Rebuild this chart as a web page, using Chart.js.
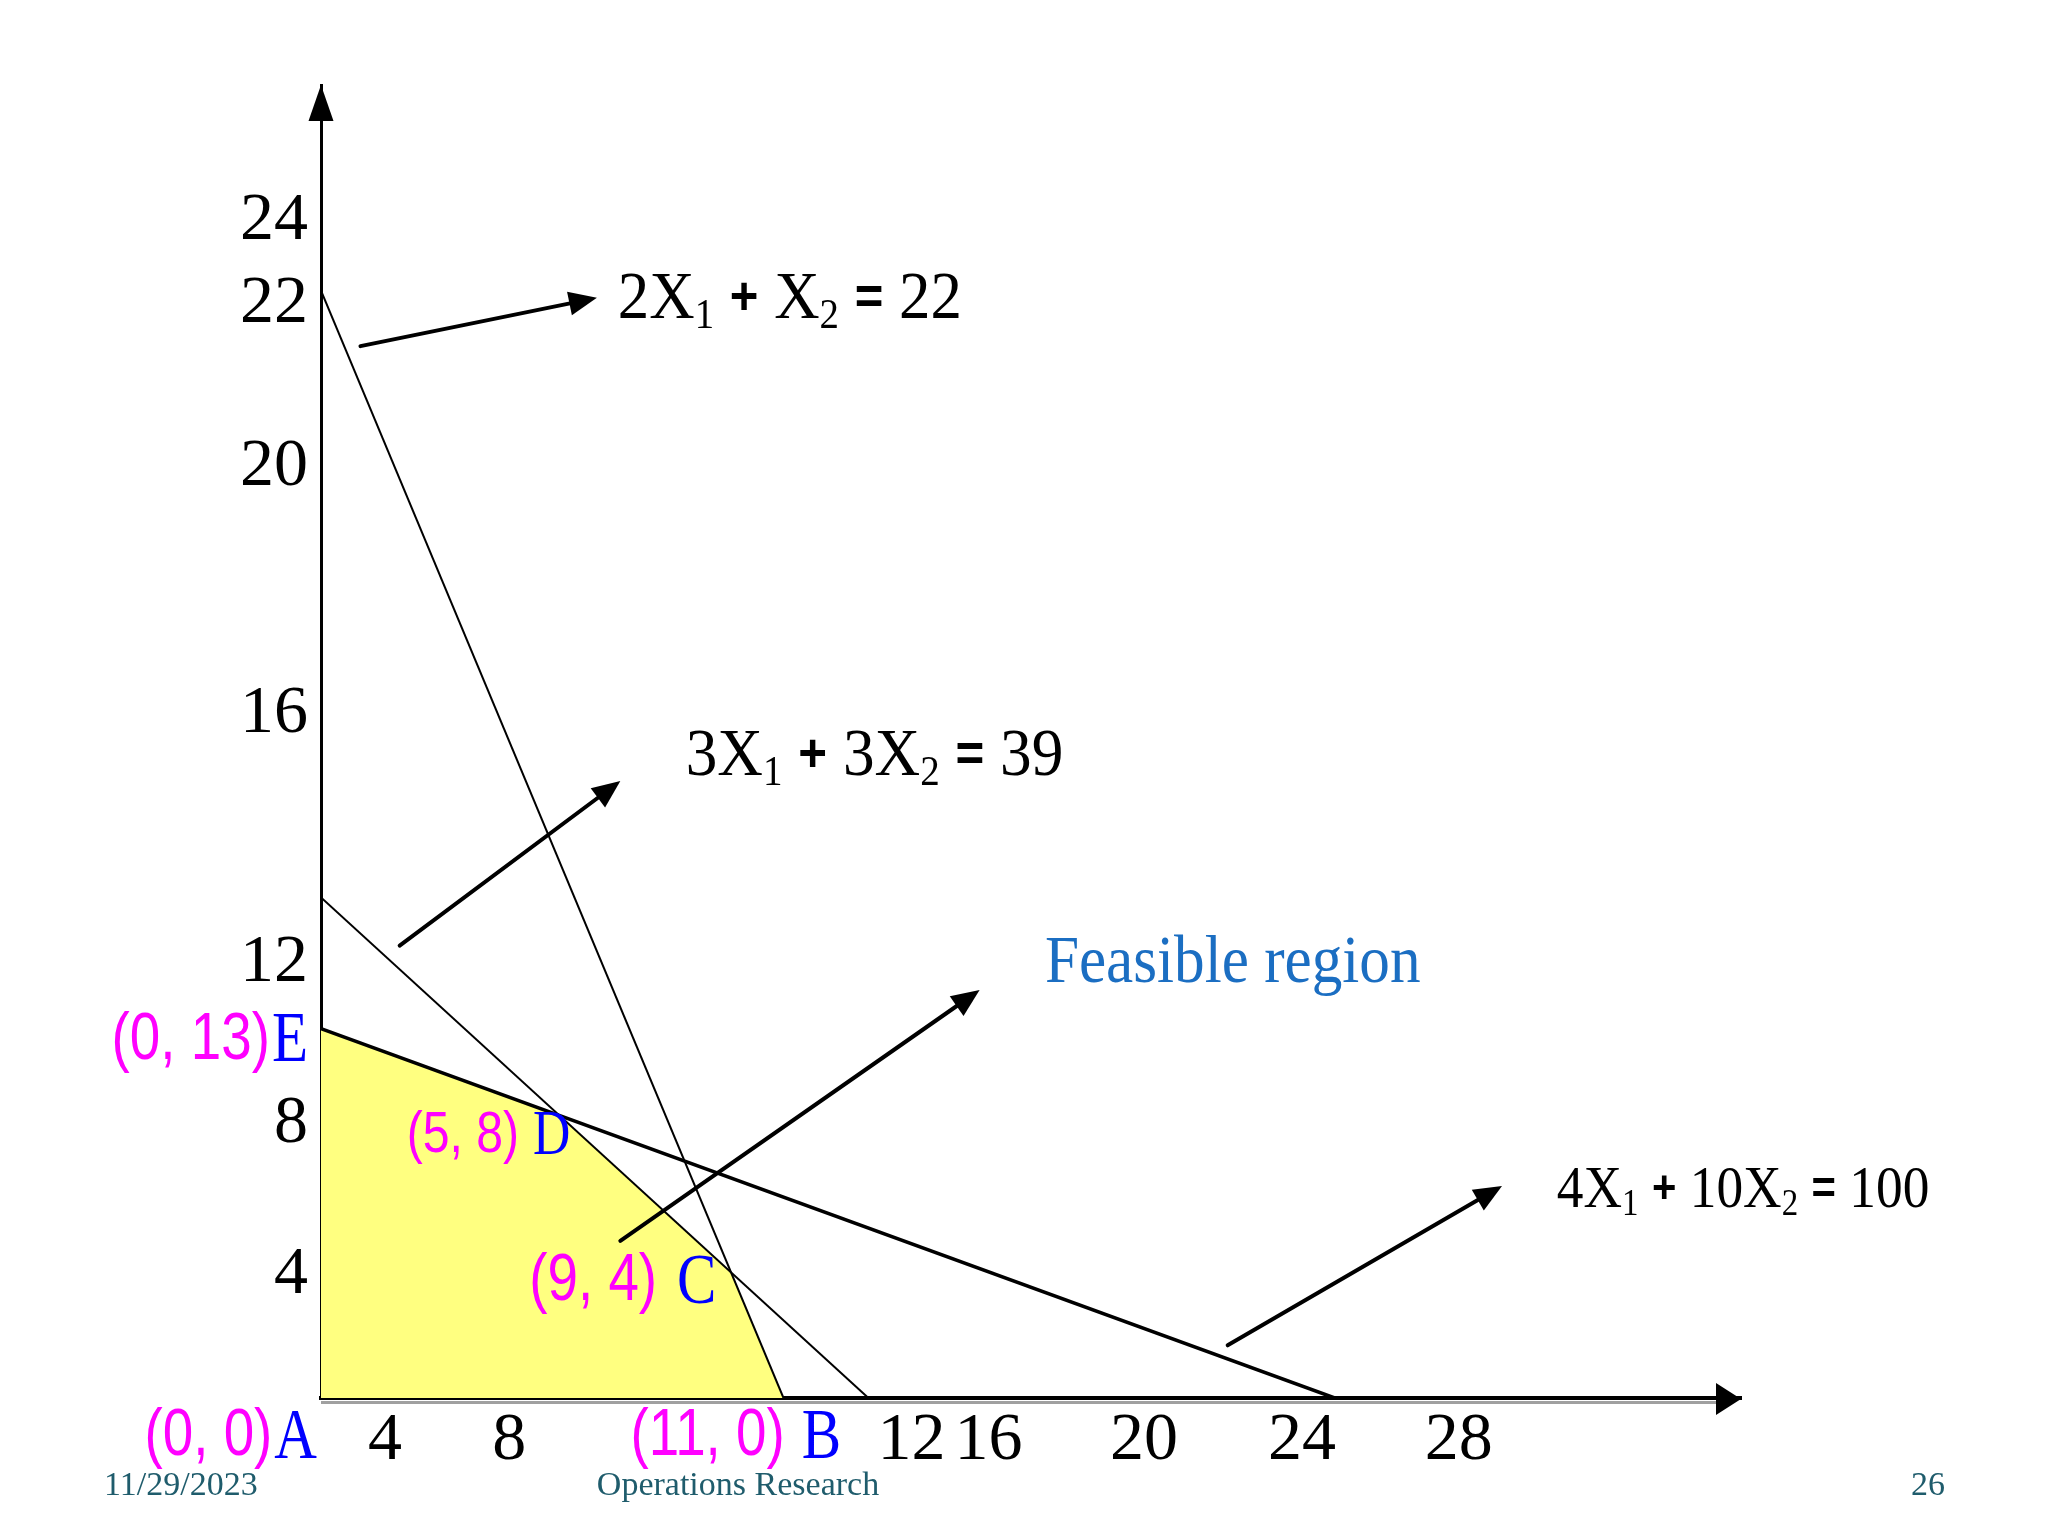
<!DOCTYPE html>
<html>
<head>
<meta charset="utf-8">
<script src="https://cdn.jsdelivr.net/npm/chart.js@4.4.1/dist/chart.umd.min.js"></script>
<style>
  html, body { margin: 0; padding: 0; background: #fff; }
  canvas { display: block; }
</style>
</head>
<body>
<canvas id="lp" width="2048" height="1536"></canvas>
<script>
/* ── data ── */
const lineLabels   = ['2X_1 + X_2 = 22', '3X_1 + 3X_2 = 39', '4X_1 + 10X_2 = 100'];
const x1Intercepts = [11, 13, 25];
const x2Intercepts = [22, 13, 10];
const lineWidths   = [2, 2, 3.5];

const vertexNames = ['A', 'B', 'C', 'D', 'E'];
const vertexX1    = [0, 11, 9, 5, 0];
const vertexX2    = [0, 0, 4, 8, 10];
const vertexText  = ['(0, 0)', '(11, 0)', '(9, 4)', '(5, 8)', '(0, 13)'];

const xTicks = [4, 8, 12, 16, 20, 24, 28];
const yTicks = [4, 8, 12, 16, 20, 22, 24];

const footer = ['11/29/2023', 'Operations Research', '26'];

/* ── the slide is not drawn to scale: piecewise value -> axis fraction ── */
const KNOTS = {
  x:  [[0, 0], [5, 0.1674], [9, 0.2889], [11, 0.3257], [13, 0.3855], [25, 0.7139], [35.5, 1]],
  y:  [[0, 0], [4, 0.0958], [8, 0.2156], [10, 0.2814], [13, 0.3812], [22, 0.8433], [25.05, 1]],
  xt: [[0, 0], [4, 0.0451], [8, 0.1325], [12, 0.4158], [16, 0.4701], [20, 0.5796], [24, 0.6909], [28, 0.8013], [35.6, 1]],
  yt: [[0, 0], [4, 0.0938], [8, 0.2086], [12, 0.3313], [16, 0.5210], [20, 0.7086], [22, 0.8333], [24, 0.8962], [27, 1]]
};

function warp(knots, v) {
  for (let i = 1; i < knots.length; i++) {
    const [v0, f0] = knots[i - 1], [v1, f1] = knots[i];
    if (v <= v1 || i === knots.length - 1) return f0 + (v - v0) * (f1 - f0) / (v1 - v0);
  }
}
function unwarp(knots, f) {
  for (let i = 1; i < knots.length; i++) {
    const [v0, f0] = knots[i - 1], [v1, f1] = knots[i];
    if (f <= f1 || i === knots.length - 1) return v0 + (f - f0) * (v1 - v0) / (f1 - f0);
  }
}

class WarpScale extends Chart.LinearScale {
  static id = 'warp';
  static defaults = Chart.LinearScale.defaults;
  getPixelForValue(value) {
    if (value === null || value === undefined || isNaN(value)) return NaN;
    return this.getPixelForDecimal(warp(KNOTS[this.id], value));
  }
  getValueForPixel(pixel) {
    return unwarp(KNOTS[this.id], this.getDecimalForPixel(pixel));
  }
}
Chart.register(WarpScale);

Chart.defaults.font.family = "'Liberation Serif', 'Times New Roman', serif";
Chart.defaults.color = '#000';

/* ── drawing helpers ── */
function txt(ctx, s, x, y, font, color, sx = 1, align = 'left') {
  ctx.save();
  ctx.font = font;
  ctx.fillStyle = color;
  ctx.textBaseline = 'middle';
  ctx.textAlign = 'left';
  const w = ctx.measureText(s).width * sx;
  const x0 = align === 'right' ? x - w : align === 'center' ? x - w / 2 : x;
  ctx.translate(x0, y);
  ctx.scale(sx, 1);
  ctx.fillText(s, 0, 0);
  ctx.restore();
  return w;
}

// '_1' -> subscript, '+' and '=' -> heavy sans operator, rest serif
function equation(ctx, s, x, y, size, sx) {
  let cx = x;
  s.split(/(_\d|[+=])/).forEach(p => {
    if (!p) return;
    if (p[0] === '_') {
      cx += txt(ctx, p.slice(1), cx, y + size * 0.24, `${Math.round(size * 0.62)}px "Liberation Serif"`, '#000', sx);
    } else if (p === '+' || p === '=') {
      cx += txt(ctx, p, cx, y - size * 0.02, `bold ${Math.round(size * 0.78)}px "Liberation Sans"`, '#000', sx);
    } else {
      cx += txt(ctx, p, cx, y, `${size}px "Liberation Serif"`, '#000', sx);
    }
  });
}

function head(ctx, x, y, ang, len, wid) {
  ctx.save();
  ctx.translate(x, y);
  ctx.rotate(ang);
  ctx.beginPath();
  ctx.moveTo(0, 0);
  ctx.lineTo(-len, -wid / 2);
  ctx.lineTo(-len, wid / 2);
  ctx.closePath();
  ctx.fill();
  ctx.restore();
}

function arrow(ctx, x0, y0, x1, y1) {
  const ang = Math.atan2(y1 - y0, x1 - x0);
  ctx.beginPath();
  ctx.moveTo(x0, y0);
  ctx.lineTo(x1 - Math.cos(ang) * 20, y1 - Math.sin(ang) * 20);
  ctx.stroke();
  head(ctx, x1, y1, ang, 28, 24);
}

/* annotation arrows & equation labels, as fractions of the plot box */
const pointers = [
  [0.0278, 0.1989, 0.1943, 0.1621],
  [0.0554, 0.6555, 0.2108, 0.5301],
  [0.2108, 0.8803, 0.4638, 0.6893],
  [0.6385, 0.9599, 0.8317, 0.8385]
];
const eqSpots = [
  { fx: 0.2090, fy: 0.1641, size: 68, sx: 0.925 },
  { fx: 0.2568, fy: 0.5122, size: 68, sx: 0.93 },
  { fx: 0.8703, fy: 0.8425, size: 60, sx: 0.89 }
];
/* vertex label offsets from the vertex pixel */
const vLabelStyle = [
  { dx: -4,   dy: 39, align: 'right', gap: 2,  k: 1 },
  { dx: -153, dy: 39, align: 'left',  gap: 17, k: 1 },
  { dx: -202, dy: 10, align: 'left',  gap: 20, k: 1 },
  { dx: -152, dy: 21, align: 'left',  gap: 14, k: 0.88 },
  { dx: -13,  dy: 12, align: 'right', gap: 2,  k: 1 }
];

const decor = {
  id: 'decor',
  afterDraw(chart) {
    const { ctx, chartArea: a, scales } = chart;
    const W = a.right - a.left, H = a.bottom - a.top;
    const fx = f => a.left + f * W;
    const fy = f => a.top + f * H;
    ctx.save();
    ctx.fillStyle = '#000';

    // grey shadow under the x axis, then axis arrow heads
    ctx.strokeStyle = '#a0a0a0';
    ctx.lineWidth = 3;
    ctx.beginPath();
    ctx.moveTo(a.left, a.bottom + 4.5);
    ctx.lineTo(a.right - 25, a.bottom + 4.5);
    ctx.stroke();
    ctx.strokeStyle = '#000';
    head(ctx, a.left, a.top, -Math.PI / 2, 36, 25);
    head(ctx, a.right, a.bottom + 1, 0, 25, 32);

    // pointer arrows
    ctx.lineWidth = 4;
    ctx.lineCap = 'round';
    pointers.forEach(p => arrow(ctx, fx(p[0]), fy(p[1]), fx(p[2]), fy(p[3])));

    // equations
    lineLabels.forEach((s, i) => {
      const e = eqSpots[i];
      equation(ctx, s, fx(e.fx), fy(e.fy), e.size, e.sx);
    });
    txt(ctx, 'Feasible region', fx(0.5098), fy(0.6694), '68px "Liberation Serif"', '#1b6ec2', 0.9);

    // corner point labels
    const sx = scales.x, sy = scales.y;
    vertexNames.forEach((n, i) => {
      const st = vLabelStyle[i];
      const px = sx.getPixelForValue(vertexX1[i]) + st.dx;
      const py = sy.getPixelForValue(vertexX2[i]) + st.dy;
      const mFont = `${Math.round(66 * st.k)}px "Liberation Sans"`;
      const lFont = `${Math.round(72 * st.k)}px "Liberation Serif"`;
      ctx.font = mFont;
      const w1 = ctx.measureText(vertexText[i]).width * 0.83;
      ctx.font = lFont;
      const w2 = ctx.measureText(n).width * 0.82;
      const x0 = st.align === 'right' ? px - (w1 + st.gap + w2) : px;
      txt(ctx, vertexText[i], x0, py, mFont, '#ff00ff', 0.83);
      txt(ctx, n, x0 + w1 + st.gap, py + 2, lFont, '#0000ff', 0.82);
    });

    // slide footer
    const fFont = '34px "Liberation Serif"', fCol = '#1f5c6c';
    txt(ctx, footer[0], 104, 1486, fFont, fCol);
    txt(ctx, footer[1], 738, 1486, fFont, fCol, 1, 'center');
    txt(ctx, footer[2], 1928, 1486, fFont, fCol, 1, 'center');
    ctx.restore();
  }
};

const hidden = { display: false };

new Chart(document.getElementById('lp'), {
  type: 'scatter',
  data: {
    datasets: [
      ...x1Intercepts.map((xi, i) => ({
        label: lineLabels[i],
        data: [{ x: 0, y: x2Intercepts[i] }, { x: xi, y: 0 }],
        showLine: true,
        borderColor: '#000',
        borderWidth: lineWidths[i],
        pointRadius: 0,
        fill: false
      })),
      {
        label: 'Feasible region',
        data: vertexX1.map((v, i) => ({ x: v, y: vertexX2[i] })),
        showLine: true,
        borderWidth: 0,
        borderColor: 'rgba(0,0,0,0)',
        backgroundColor: '#ffff80',
        pointRadius: 0,
        fill: 'shape',
        order: 1
      }
    ]
  },
  options: {
    responsive: false,
    animation: false,
    devicePixelRatio: 1,
    events: [],
    layout: { padding: { top: 85, right: 307, bottom: 0, left: 0 } },
    plugins: { legend: hidden, tooltip: { enabled: false } },
    scales: {
      x: {
        type: 'warp', position: 'bottom', weight: 0, min: 0, max: 35.5,
        grid: { display: false, drawTicks: false },
        border: { display: true, color: '#000', width: 4 },
        ticks: hidden,
        afterFit: s => { s.height = 0; }
      },
      xt: {
        type: 'warp', axis: 'x', position: 'bottom', weight: 1, min: 0, max: 35.6,
        grid: { display: false, drawTicks: false },
        border: hidden,
        ticks: { font: { size: 68 }, color: '#000', padding: 2, maxRotation: 0, autoSkip: false },
        afterBuildTicks: s => { s.ticks = xTicks.map(v => ({ value: v })); },
        afterFit: s => { s.height = 138; }
      },
      y: {
        type: 'warp', position: 'left', weight: 0, min: 0, max: 25.05,
        grid: { display: false, drawTicks: false },
        border: { display: true, color: '#000', width: 3 },
        ticks: hidden,
        afterFit: s => { s.width = 0; }
      },
      yt: {
        type: 'warp', axis: 'y', position: 'left', weight: 1, min: 0, max: 27,
        grid: { display: false, drawTicks: false },
        border: hidden,
        ticks: { font: { size: 68 }, color: '#000', padding: 13, autoSkip: false },
        afterBuildTicks: s => { s.ticks = yTicks.map(v => ({ value: v })); },
        afterFit: s => { s.width = 321; }
      }
    }
  },
  plugins: [decor]
});
</script>
</body>
</html>
